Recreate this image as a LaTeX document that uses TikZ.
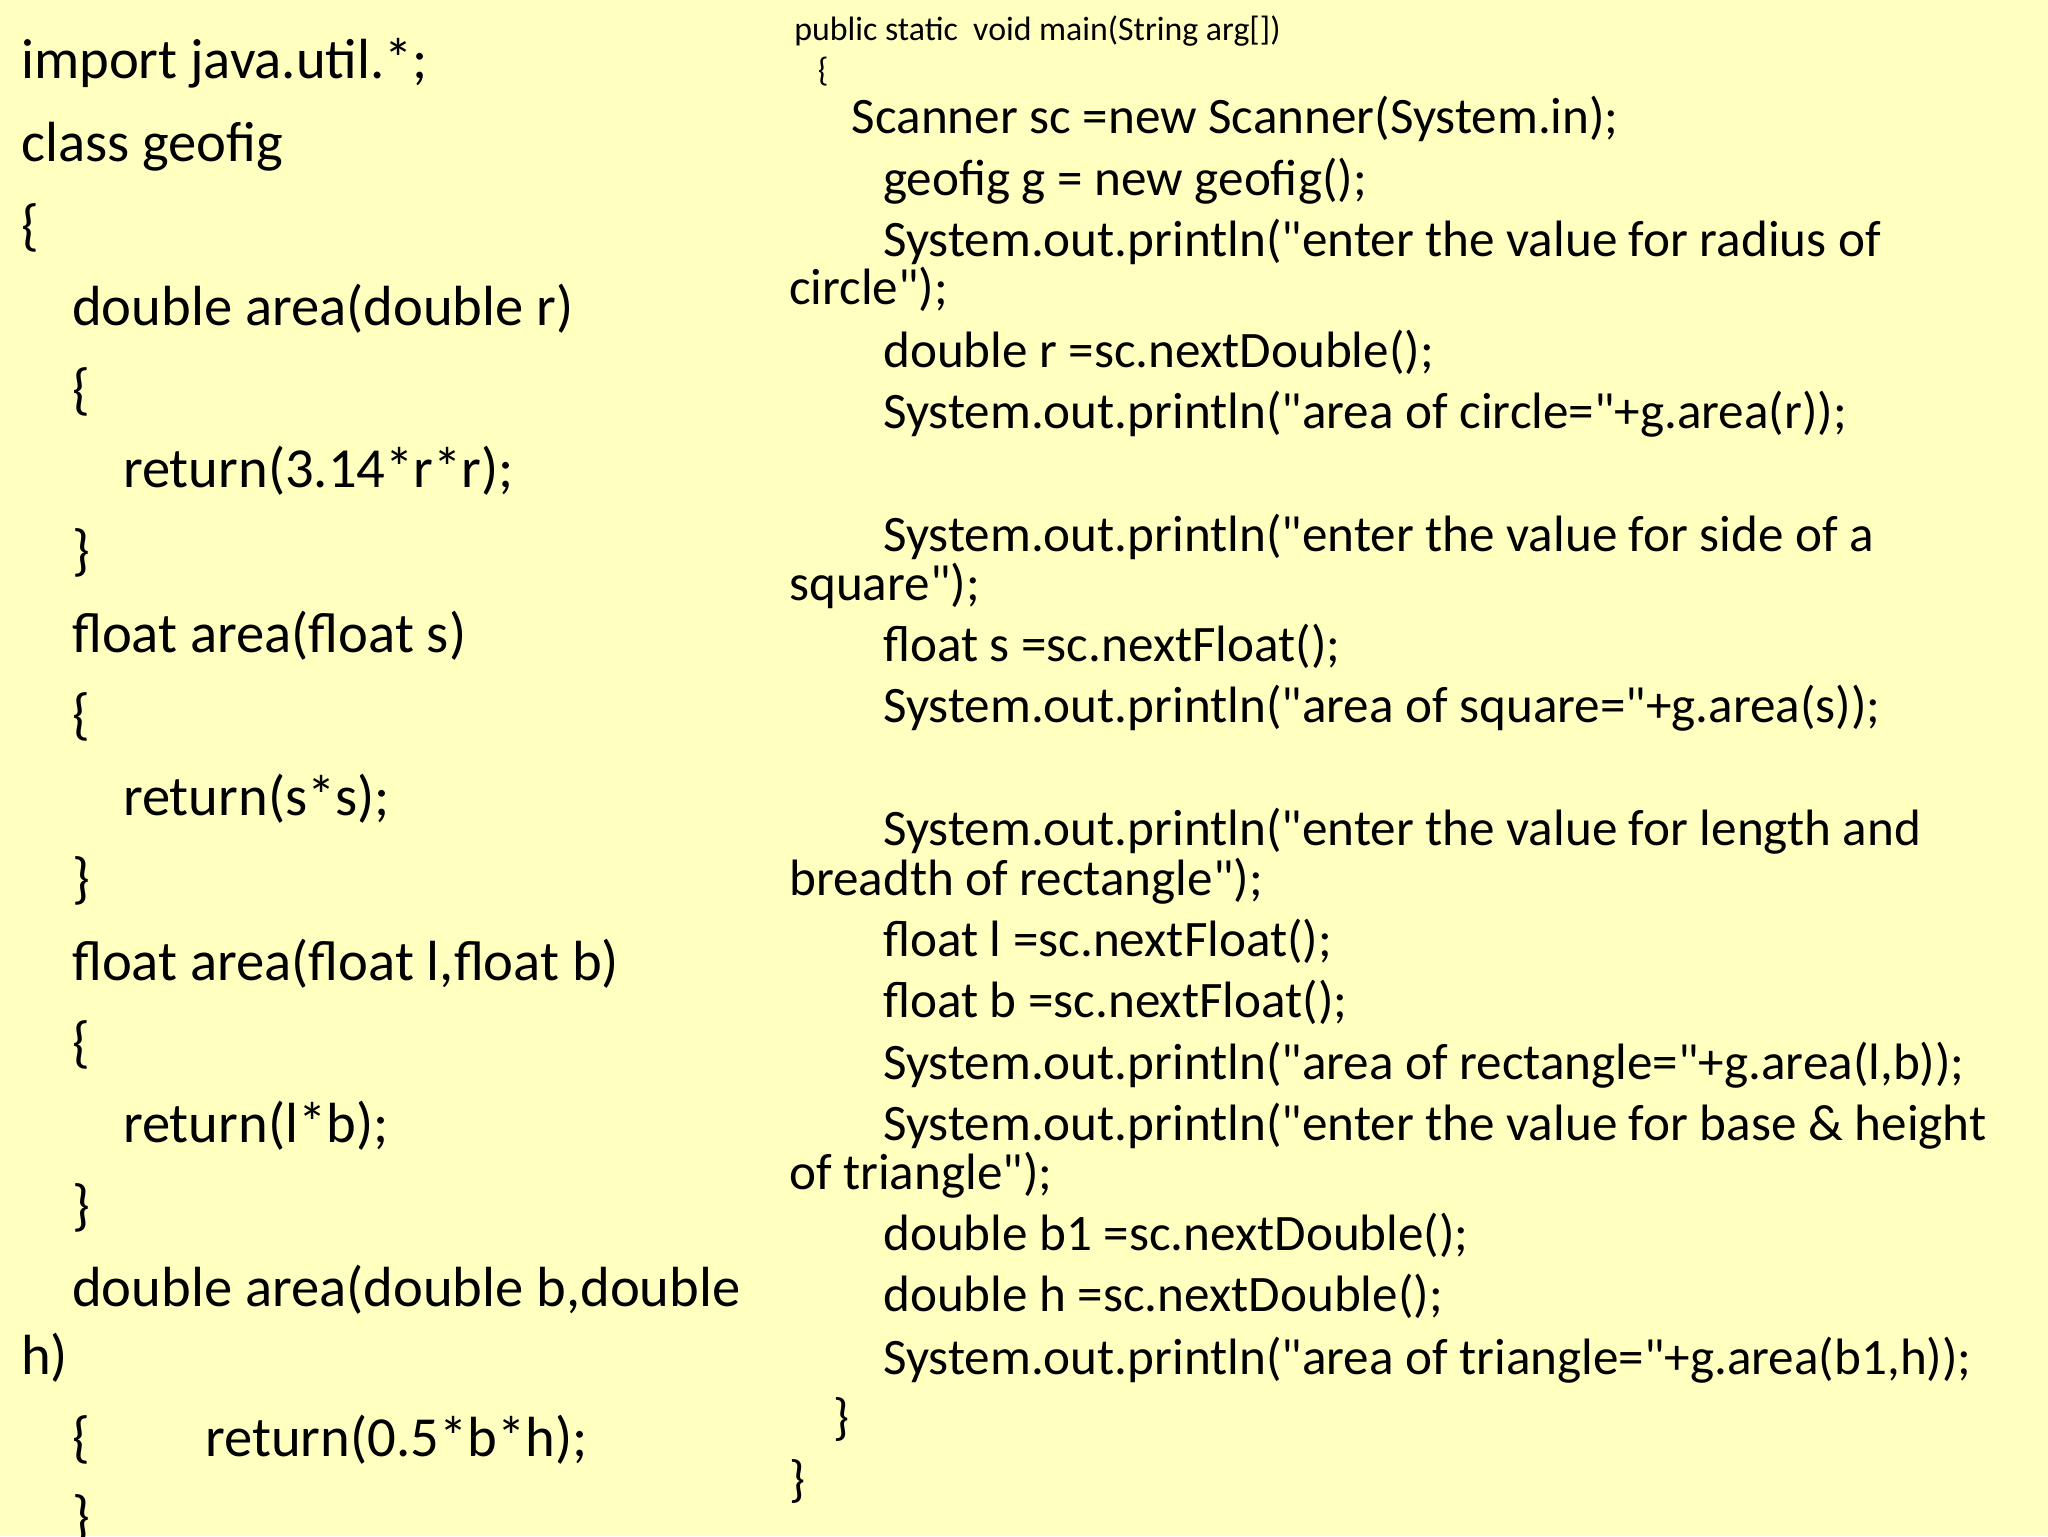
\documentclass[tikz,border=0pt]{standalone}
\usepackage{fontspec}
\setmainfont{Carlito}[Ligatures=TeXOff]
\newcommand\dq{\symbol{34}}
\begin{document}
\begin{tikzpicture}[x=1bp,y=-1bp,
  L/.style={anchor=mid west,inner sep=0pt,font=\fontsize{43.5}{43.5}\selectfont},
  R/.style={anchor=mid west,inner sep=0pt,font=\fontsize{39.3}{39.3}\selectfont},
  S/.style={anchor=mid west,inner sep=0pt,font=\fontsize{26}{26}\selectfont}]
\definecolor{bg}{RGB}{255,255,192}
\fill[bg] (0,0) rectangle (1568,1176);
\useasboundingbox (0,0) rectangle (1568,1176);
\begin{scope}[yshift=-10bp]
% left column
\node[L] (l1) at (16,48) {import java.util.*;};
\node[L] (l2) at (16,111) {class geofig};
\node[L] (l3) at (16,175) {\{};
\node[L] (l4) at (55,237) {double area(double r)};
\node[L] (l5) at (55,300) {\{};
\node[L] (l6) at (94,361) {return(3.14*r*r);};
\node[L] (l7) at (55,424) {\}};
\node[L] (l8) at (55,487) {float area(float s)};
\node[L] (l9) at (55,549) {\{};
\node[L] (l10) at (94,612) {return(s*s);};
\node[L] (l11) at (55,675) {\}};
\node[L] (l12) at (55,738) {float area(float l,float b)};
\node[L] (l13) at (55,800) {\{};
\node[L] (l14) at (94,862) {return(l*b);};
\node[L] (l15) at (55,925) {\}};
\node[L] (l16) at (55,988) {double area(double b,double};
\node[L] (l17) at (16,1040) {h)};
\node[L] (l18) at (55,1103) {\{};
\node[L] (l18b) at (157,1103) {return(0.5*b*h);};
\node[L] (l19) at (55,1163) {\}};
% right column
\node[S] (r0) at (608,19) {public static\ \ void main(String arg[])};
\node[S] (r0b) at (626,50) {\{};
\node[R] (r1) at (652,90) {Scanner sc =new Scanner(System.in);};
\node[R] (r2) at (676,137) {geofig g = new geofig();};
\node[R] (r3) at (676,184) {System.out.println(\dq enter the value for radius of};
\node[R] (r4) at (604,221) {circle\dq);};
\node[R] (r5) at (676,269) {double r =sc.nextDouble();};
\node[R] (r6) at (676,316) {System.out.println(\dq area of circle=\dq+g.area(r));};
\node[R] (r7) at (676,410) {System.out.println(\dq enter the value for side of a};
\node[R] (r8) at (604,447) {square\dq);};
\node[R] (r9) at (676,494) {float s =sc.nextFloat();};
\node[R] (r10) at (676,541) {System.out.println(\dq area of square=\dq+g.area(s));};
\node[R] (r11) at (676,635) {System.out.println(\dq enter the value for length and};
\node[R] (r12) at (604,673) {breadth of rectangle\dq);};
\node[R] (r13) at (676,720) {float l =sc.nextFloat();};
\node[R] (r14) at (676,767) {float b =sc.nextFloat();};
\node[R] (r15) at (676,814) {System.out.println(\dq area of rectangle=\dq+g.area(l,b));};
\node[R] (r16) at (676,861) {System.out.println(\dq enter the value for base \& height};
\node[R] (r17) at (604,898) {of triangle\dq);};
\node[R] (r18) at (676,945) {double b1 =sc.nextDouble();};
\node[R] (r19) at (676,992) {double h =sc.nextDouble();};
\node[R] (r20) at (676,1040) {System.out.println(\dq area of triangle=\dq+g.area(b1,h));};
\node[R] (r21) at (638,1086) {\}};
\node[R] (r22) at (604,1133) {\}};
\end{scope}
\end{tikzpicture}
\end{document}
